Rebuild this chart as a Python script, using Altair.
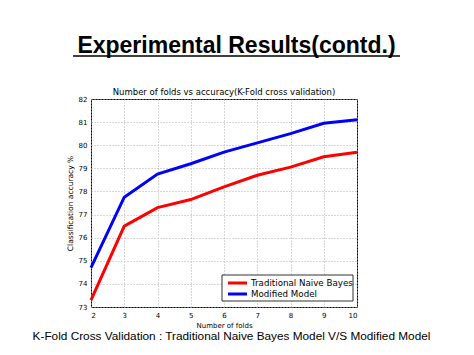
import altair as alt
import pandas as pd

folds = [2, 3, 4, 5, 6, 7, 8, 9, 10]
naive_bayes = [73.3, 76.5, 77.3, 77.65, 78.2, 78.7, 79.05, 79.5, 79.7]
modified = [74.7, 77.75, 78.75, 79.2, 79.7, 80.1, 80.5, 80.95, 81.1]
series_names = ["Traditional Naive Bayes", "Modified Model"]
series_colors = ["#ff0000", "#0000ff"]
y_ticks = [73, 74, 75, 76, 77, 78, 79, 80, 81, 82]

rows = []
for f, a, b in zip(folds, naive_bayes, modified):
    rows.append({"folds": f, "acc": a, "model": series_names[0]})
    rows.append({"folds": f, "acc": b, "model": series_names[1]})
df = pd.DataFrame(rows)

W, H = 266, 208
one = alt.Data(values=[{}])
color_scale = alt.Scale(domain=series_names, range=series_colors)

lines = alt.Chart(df).mark_line(strokeWidth=3).encode(
    x=alt.X("folds:Q", scale=alt.Scale(domain=[2, 10], nice=False),
            axis=alt.Axis(title="Number of folds", values=folds, ticks=False,
                          labelPadding=4, titlePadding=3, grid=True)),
    y=alt.Y("acc:Q", scale=alt.Scale(domain=[73, 82], nice=False),
            axis=alt.Axis(title="Classification accuracy %", values=y_ticks, ticks=False,
                          labelPadding=4, titlePadding=4, titleFontSize=7.5, grid=True)),
    color=alt.Color("model:N", scale=color_scale, legend=None),
    detail="model:N",
)

# manual legend (matplotlib style box in lower right)
legend_box = alt.Chart(one).mark_rect(fill="white", stroke="#333333", strokeWidth=1).encode(
    x=alt.value(131), x2=alt.value(262), y=alt.value(176), y2=alt.value(202)
)
leg_df = pd.DataFrame({"model": series_names, "row": [0, 1]})
leg_y = alt.Y("row:Q", scale=alt.Scale(domain=[0, 1], range=[184, 195]), axis=None)
legend_lines = alt.Chart(leg_df).mark_rule(strokeWidth=3).encode(
    x=alt.value(137), x2=alt.value(156), y=leg_y,
    color=alt.Color("model:N", scale=color_scale, legend=None),
)
legend_text = alt.Chart(leg_df).mark_text(
    font="DejaVu Sans", fontSize=8.7, align="left", baseline="middle", color="black"
).encode(x=alt.value(160), y=leg_y, text="model:N")
legend = alt.layer(legend_lines, legend_text)

slide_title = alt.Chart(one).mark_text(
    font="Liberation Sans", fontSize=23, fontWeight="bold", align="center",
    baseline="alphabetic", color="black"
).encode(x=alt.value(145.5), y=alt.value(-46), text=alt.value("Experimental Results(contd.)"))

underline = alt.Chart(one).mark_rule(color="black", strokeWidth=1.5).encode(
    x=alt.value(-18), x2=alt.value(309), y=alt.value(-43)
)

chart_title = alt.Chart(one).mark_text(
    font="DejaVu Sans", fontSize=8.5, align="center", baseline="alphabetic", color="black"
).encode(x=alt.value(W / 2), y=alt.value(-4),
         text=alt.value("Number of folds vs accuracy(K-Fold cross validation)"))

caption = alt.Chart(one).mark_text(
    font="Liberation Sans", fontSize=11.8, align="center", baseline="middle", color="black"
).encode(x=alt.value(140.5), y=alt.value(237),
         text=alt.value("K-Fold Cross Validation : Traditional Naive Bayes Model V/S Modified Model"))

chart = alt.layer(
    lines, legend_box, legend, slide_title, underline, chart_title, caption
).resolve_scale(y="independent").properties(
    width=W, height=H,
    autosize=alt.AutoSizeParams(type="none"),
    padding={"left": 91, "top": 99, "right": 117, "bottom": 48},
    background="white",
).configure_view(
    stroke="black", strokeWidth=1
).configure_axis(
    labelFont="DejaVu Sans", titleFont="DejaVu Sans", labelFontSize=7, titleFontSize=7,
    titleFontWeight="normal", labelColor="black", titleColor="black",
    gridColor="#b0b0b0", gridDash=[1, 2], domain=False,
)

chart.save("out.html", embed_options={"renderer": "svg", "actions": False})
